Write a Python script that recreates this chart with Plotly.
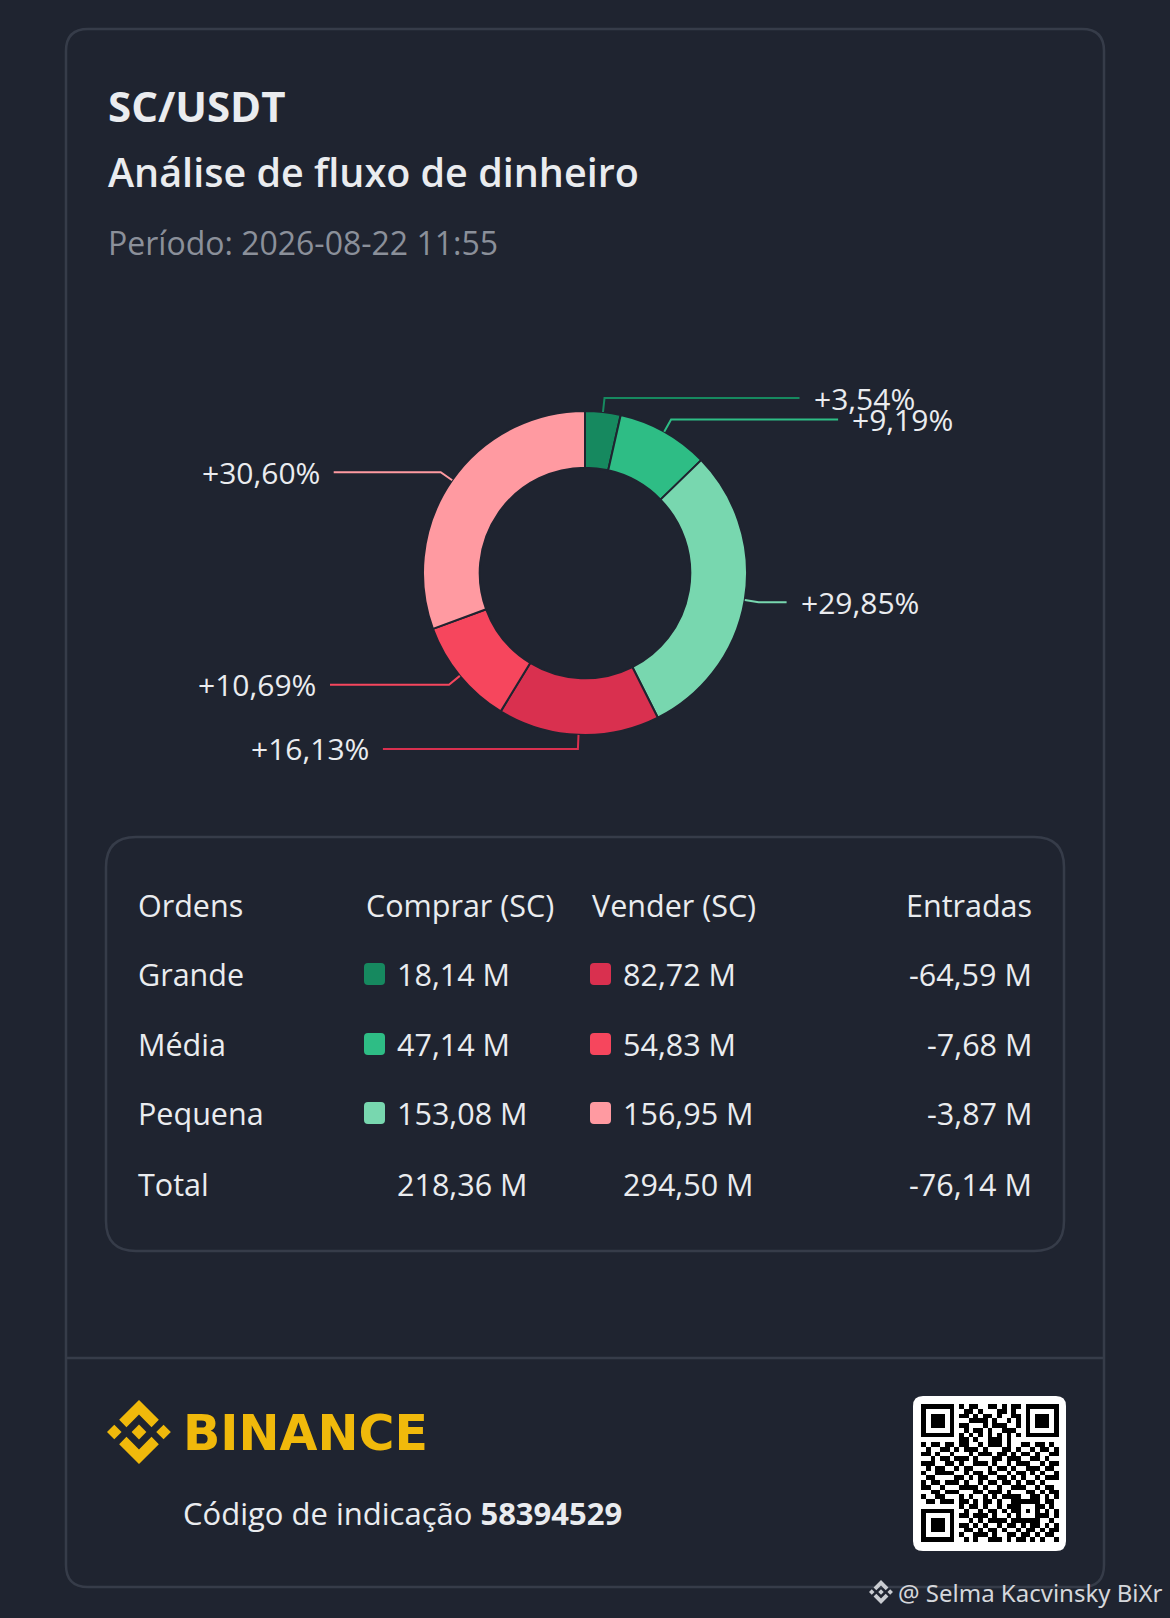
import math
import plotly.graph_objects as go

# =====================================================
# DATA
# =====================================================

PAIR = "SC/USDT"
TITLE = "Análise de fluxo de dinheiro"
PERIOD = "Período: 2026-08-22 11:55"

order_sizes = ["Grande", "Média", "Pequena"]
buy_values = [18.14, 47.14, 153.08]      # Comprar (SC), milhões
sell_values = [82.72, 54.83, 156.95]     # Vender (SC), milhões
inflow_values = [-64.59, -7.68, -3.87]   # Entradas, milhões

table_headers = ["Ordens", "Comprar (SC)", "Vender (SC)", "Entradas"]
total_label = "Total"

referral_code = "58394529"
watermark = "@ Selma Kacvinsky BiXr"

# =====================================================
# THEME
# =====================================================

W, H = 1170, 1618
BG = "#1F2430"
BORDER = "#363C49"
TEXT = "#EAECEF"
MUTED = "#8B909A"
FONT = "Open Sans"
YELLOW = "#F0B90B"

BUY_COLORS = ["#16895F", "#2EBD85", "#78D7AF"]
SELL_COLORS = ["#D9304F", "#F6465D", "#FF9AA1"]

# donut geometry (pixels)
CX, CY = 585, 573
R_OUT = 162
HOLE = 0.65
LINE1 = 14
LINE2 = [195, 167, 28, 195, 119, 107]


def fmt(v, suffix=" M"):
    return f"{v:.2f}".replace(".", ",") + suffix


def rrect(x0, y0, x1, y1, r):
    return (
        f"M{x0 + r},{y0} L{x1 - r},{y0} Q{x1},{y0} {x1},{y0 + r} "
        f"L{x1},{y1 - r} Q{x1},{y1} {x1 - r},{y1} L{x0 + r},{y1} "
        f"Q{x0},{y1} {x0},{y1 - r} L{x0},{y0 + r} Q{x0},{y0} {x0 + r},{y0} Z"
    )


# Binance mark, in a 125.52 unit box
LOGO_POLYS = [
    [(38.17, 53.20), (62.76, 28.62), (87.36, 53.22), (101.67, 38.91), (62.76, 0), (23.86, 38.9)],
    [(0, 62.76), (14.3, 48.46), (28.6, 62.76), (14.3, 77.06)],
    [(38.17, 72.32), (62.76, 96.90), (87.36, 72.30), (101.67, 86.60), (62.76, 125.52), (23.86, 86.63)],
    [(96.62, 62.77), (110.92, 48.46), (125.23, 62.76), (110.92, 77.07)],
    [(77.26, 62.76), (62.76, 48.24), (48.25, 62.76), (62.76, 77.27)],
]


def logo_shapes(cx, cy, size, color):
    k = size / 125.52
    out = []
    for poly in LOGO_POLYS:
        pts = [(cx + (px - 62.76) * k, cy + (py - 62.76) * k) for px, py in poly]
        path = "M" + " L".join(f"{x:.2f},{y:.2f}" for x, y in pts) + " Z"
        out.append(dict(type="path", xref="x", yref="y", path=path,
                        fillcolor=color, line=dict(width=0), layer="above"))
    return out


# QR code modules (decorative)
QR_ROWS = [
    "11111110101100110101101111111",
    "10000010011010001101001000001",
    "10111010110101101001101011101",
    "10111010001111010010101011101",
    "10111010110001011100101011101",
    "10000010010110100111001000001",
    "11111110101010101010101111111",
    "00000000110100111010000000000",
    "10110110110010111010011011010",
    "01001101011101000110100101101",
    "11010010001011101101011010011",
    "00101101110100011011100110100",
    "11100110100111010010111001011",
    "01011001011000101101001110110",
    "10011110010110110010110101001",
    "01100001101011001101010010111",
    "10110111010010110110101101000",
    "11001000111101001001110010110",
    "00110111000110111010001101011",
    "10011000101001010111100110101",
    "01101110110101101001111110110",
    "00000000101101001011100011010",
    "11111110010010110101101010101",
    "10000010110111010010100011101",
    "10111010001010111101111110010",
    "10111010110101001011010110101",
    "10111010011010110100101101011",
    "10000010100111010011011010110",
    "11111110010100111010110101001",
]

# =====================================================
# FIGURE
# =====================================================

fig = go.Figure()

pie_values = buy_values + sell_values
pie_colors = BUY_COLORS + SELL_COLORS
total = sum(pie_values)

fig.add_trace(
    go.Pie(
        values=pie_values,
        marker=dict(colors=pie_colors, line=dict(color=BG, width=2)),
        sort=False,
        direction="clockwise",
        rotation=0,
        hole=HOLE,
        textinfo="none",
        hoverinfo="skip",
        showlegend=False,
        domain=dict(
            x=[(CX - R_OUT) / W, (CX + R_OUT) / W],
            y=[1 - (CY + R_OUT) / H, 1 - (CY - R_OUT) / H],
        ),
    )
)

# QR heatmap on the pixel axes
qr_z = [[int(c) for c in row] for row in QR_ROWS]
MOD = 4.75
QX0, QY0 = 921, 1404
fig.add_trace(
    go.Heatmap(
        z=qr_z,
        x0=QX0 + MOD / 2, dx=MOD,
        y0=QY0 + MOD / 2, dy=MOD,
        colorscale=[[0, "white"], [1, "black"]],
        zmin=0, zmax=1,
        showscale=False,
        hoverinfo="skip",
    )
)

shapes = []
annotations = []

# card, table panel, divider, QR background
shapes.append(dict(type="path", xref="x", yref="y", path=rrect(66, 29, 1104, 1587, 22),
                   fillcolor=BG, line=dict(color=BORDER, width=2.5), layer="below"))
shapes.append(dict(type="path", xref="x", yref="y", path=rrect(106, 837, 1064, 1251, 30),
                   fillcolor=BG, line=dict(color=BORDER, width=2.5), layer="below"))
shapes.append(dict(type="line", xref="x", yref="y", x0=66, x1=1104, y0=1358, y1=1358,
                   line=dict(color=BORDER, width=2.5), layer="below"))
shapes.append(dict(type="path", xref="x", yref="y", path=rrect(913, 1396, 1066, 1551, 10),
                   fillcolor="white", line=dict(width=0), layer="below"))

# header texts
annotations.append(dict(x=106, y=105, text=PAIR, font=dict(family=FONT, size=42, color=TEXT, weight=700)))
annotations.append(dict(x=106, y=172, text=TITLE, font=dict(family=FONT, size=39.5, color=TEXT, weight=600)))
annotations.append(dict(x=106, y=242, text=PERIOD, font=dict(family=FONT, size=32, color=MUTED)))

# donut leader lines + percentage labels
cum = 0
for i, v in enumerate(pie_values):
    theta = math.radians(360 * (cum + v / 2) / total)
    cum += v
    s, c = math.sin(theta), math.cos(theta)
    x0, y0 = CX + R_OUT * s, CY - R_OUT * c
    x1, y1 = CX + (R_OUT + LINE1) * s, CY - (R_OUT + LINE1) * c
    side = 1 if s >= 0 else -1
    x2 = x1 + side * LINE2[i]
    shapes.append(dict(type="path", xref="x", yref="y",
                       path=f"M{x0:.1f},{y0:.1f} L{x1:.1f},{y1:.1f} L{x2:.1f},{y1:.1f}",
                       line=dict(color=pie_colors[i], width=2), layer="above"))
    pct = "+" + fmt(100 * v / total, "%")
    annotations.append(dict(x=x2 + side * 12, y=y1, text=pct,
                            xanchor="left" if side > 0 else "right",
                            font=dict(family=FONT, size=30, color=TEXT)))

# table
COL_X = [136, 364, 590, 1034]
ROW_Y = [905, 974, 1044, 1113, 1184]
TSIZE = 30.5

for j, h in enumerate(table_headers):
    annotations.append(dict(x=COL_X[j], y=ROW_Y[0], text=h,
                            xanchor="right" if j == 3 else "left",
                            font=dict(family=FONT, size=TSIZE, color=TEXT)))

for i, name in enumerate(order_sizes):
    y = ROW_Y[i + 1]
    annotations.append(dict(x=COL_X[0], y=y, text=name, font=dict(family=FONT, size=TSIZE, color=TEXT)))
    for k, (vals, cols) in enumerate([(buy_values, BUY_COLORS), (sell_values, SELL_COLORS)]):
        sx = COL_X[1 + k]
        shapes.append(dict(type="path", xref="x", yref="y", path=rrect(sx, y - 11, sx + 21, y + 11, 4),
                           fillcolor=cols[i], line=dict(width=0), layer="above"))
        annotations.append(dict(x=sx + 31, y=y, text=fmt(vals[i]),
                                font=dict(family=FONT, size=TSIZE, color=TEXT)))
    annotations.append(dict(x=COL_X[3], y=y, text=fmt(inflow_values[i]), xanchor="right",
                            font=dict(family=FONT, size=TSIZE, color=TEXT)))

y = ROW_Y[4]
annotations.append(dict(x=COL_X[0], y=y, text=total_label, font=dict(family=FONT, size=TSIZE, color=TEXT)))
annotations.append(dict(x=COL_X[1] + 31, y=y, text=fmt(sum(buy_values)), font=dict(family=FONT, size=TSIZE, color=TEXT)))
annotations.append(dict(x=COL_X[2] + 31, y=y, text=fmt(sum(sell_values)), font=dict(family=FONT, size=TSIZE, color=TEXT)))
annotations.append(dict(x=COL_X[3], y=y, text=fmt(sum(inflow_values)), xanchor="right",
                        font=dict(family=FONT, size=TSIZE, color=TEXT)))

# footer: logo, referral, watermark
shapes += logo_shapes(139, 1432, 64, YELLOW)
annotations.append(dict(x=181, y=1433, text="BINANCE",
                        font=dict(family="DejaVu Sans", size=49, color=YELLOW, weight=700)))
annotations.append(dict(x=181, y=1513, text=f"Código de indicação <b>{referral_code}</b>",
                        font=dict(family=FONT, size=31, color=TEXT)))
shapes += logo_shapes(881, 1592, 24, "#C9CCD1")
annotations.append(dict(x=896, y=1592, text=watermark,
                        font=dict(family="Noto Sans", size=24, color="#D5D7DB")))

for a in annotations:
    a.setdefault("xref", "x")
    a.setdefault("yref", "y")
    a.setdefault("xanchor", "left")
    a.setdefault("yanchor", "middle")
    a["showarrow"] = False

fig.update_layout(
    width=W,
    height=H,
    margin=dict(l=0, r=0, t=0, b=0),
    paper_bgcolor=BG,
    plot_bgcolor=BG,
    xaxis=dict(range=[0, W], visible=False, fixedrange=True),
    yaxis=dict(range=[H, 0], visible=False, fixedrange=True),
    shapes=shapes,
    annotations=annotations,
)

fig.write_html(
    "out.html",
    config={"displayModeBar": False},
    post_script="document.body.style.margin='0';",
)
